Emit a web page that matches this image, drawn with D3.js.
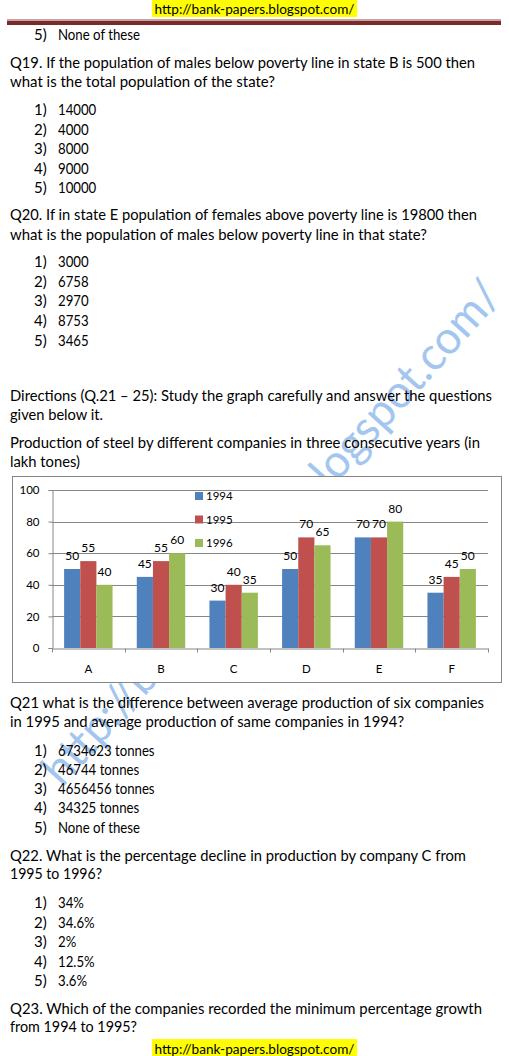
<!DOCTYPE html>
<html><head><meta charset="utf-8">
<script src="https://cdn.jsdelivr.net/npm/d3@7"></script>
<style>html,body{margin:0;padding:0;background:#fff;overflow:hidden}</style>
</head><body><svg id="page" width="509" height="1056"></svg>
<script>
// ---- chart data ----
const categories = ["A", "B", "C", "D", "E", "F"];
const years = ["1994", "1995", "1996"];
const prod1994 = [50, 45, 30, 50, 70, 35];
const prod1995 = [55, 55, 40, 70, 70, 45];
const prod1996 = [40, 60, 35, 65, 80, 50];
const yTicks = [0, 20, 40, 60, 80, 100];
const seriesColors = ["#4F81BD", "#C0504D", "#9BBB59"];

// ---- page text ----
const siteUrl = "http://bank-papers.blogspot.com/";
const textAbove = [
  {n: "5)", t: "None of these", y: 35},
  {t: "Q19. If the population of males below poverty line in state B is 500 then", y: 63.3, w: 465},
  {t: "what is the total population of the state?", y: 82.3, w: 265},
  {n: "1)", t: "14000", y: 110},
  {n: "2)", t: "4000", y: 129.5},
  {n: "3)", t: "8000", y: 149.3},
  {n: "4)", t: "9000", y: 168.5},
  {n: "5)", t: "10000", y: 188.3},
  {t: "Q20. If in state E population of females above poverty line is 19800 then", y: 215, w: 467},
  {t: "what is the population of males below poverty line in that state?", y: 234.5, w: 417},
  {n: "1)", t: "3000", y: 262.3},
  {n: "2)", t: "6758", y: 282},
  {n: "3)", t: "2970", y: 301.3},
  {n: "4)", t: "8753", y: 321},
  {n: "5)", t: "3465", y: 341},
  {t: "Directions (Q.21 \u2013 25): Study the graph carefully and answer the questions", y: 396, w: 482},
  {t: "given below it.", y: 415, w: 93},
  {t: "Production of steel by different companies in three consecutive years (in", y: 443.3, w: 470},
  {t: "lakh tones)", y: 461.7, w: 70},
  {t: "Q21 what is the difference between average production of six companies", y: 703.3, w: 474},
  {t: "in 1995 and average production of same companies in 1994?", y: 722.3, w: 394},
  {n: "1)", t: "6734623 tonnes", y: 750.7},
  {n: "2)", t: "46744 tonnes", y: 769.7},
  {n: "3)", t: "4656456 tonnes", y: 789},
  {n: "4)", t: "34325 tonnes", y: 808.3},
  {n: "5)", t: "None of these", y: 828},
  {t: "Q22. What is the percentage decline in production by company C from", y: 856, w: 456},
  {t: "1995 to 1996?", y: 874.3, w: 92},
  {n: "1)", t: "34%", y: 903.3},
  {n: "2)", t: "34.6%", y: 922.7},
  {n: "3)", t: "2%", y: 942},
  {n: "4)", t: "12.5%", y: 961.7},
  {n: "5)", t: "3.6%", y: 981},
  {t: "Q23. Which of the companies recorded the minimum percentage growth", y: 1009, w: 472},
  {t: "from 1994 to 1995?", y: 1026.7, w: 127}
];

const svg = d3.select("#page");
const FONT = "Lato, 'Open Sans', sans-serif";

// watermark (behind everything)
svg.append("text")
  .attr("transform", "translate(271,532) rotate(-48)")
  .attr("text-anchor", "middle")
  .attr("dy", "0.35em")
  .attr("font-family", FONT)
  .attr("font-size", 46)
  .attr("fill", "#a3c6ee")
  .attr("textLength", 660)
  .attr("lengthAdjust", "spacingAndGlyphs")
  .text(siteUrl);

// header
function urlBanner(yTop, h, base) {
  svg.append("rect").attr("x", 152).attr("y", yTop).attr("width", 205).attr("height", h).attr("fill", "#ffff00");
  svg.append("text").attr("x", 254.5).attr("y", base).attr("text-anchor", "middle")
    .attr("font-family", FONT).attr("font-size", 14).attr("fill", "#000")
    .attr("textLength", 200).attr("lengthAdjust", "spacingAndGlyphs").text(siteUrl);
}
urlBanner(0, 17, 14);
svg.append("rect").attr("x", 7).attr("y", 19).attr("width", 494).attr("height", 2).attr("fill", "#c9a3a3");
svg.append("rect").attr("x", 7).attr("y", 21).attr("width", 494).attr("height", 4).attr("fill", "#7b2a2a");
urlBanner(1039, 17, 1054);

// body text
const tg = svg.append("g").attr("font-family", FONT).attr("font-size", 15).attr("fill", "#000");
textAbove.forEach(d => {
  if (d.n) {
    tg.append("text").attr("x", 34).attr("y", d.y + 5).text(d.n);
    const t = tg.append("text").attr("x", 58).attr("y", d.y + 5).text(d.t);
    const L = t.node().getComputedTextLength();
    t.attr("textLength", L * 0.88).attr("lengthAdjust", "spacingAndGlyphs");
  } else {
    const t = tg.append("text").attr("x", 10).attr("y", d.y + 5).text(d.t);
    if (d.w) t.attr("textLength", d.w).attr("lengthAdjust", "spacingAndGlyphs");
  }
});

// ---- chart ----
svg.append("rect").attr("x", 12.5).attr("y", 476.5).attr("width", 489).attr("height", 206)
  .attr("fill", "#fff").attr("stroke", "#868686").attr("stroke-width", 1);

const x0 = d3.scaleBand().domain(categories).range([52, 488]).paddingInner(0).paddingOuter(0);
const x1 = d3.scaleBand().domain(years).range([0, x0.bandwidth()]).paddingInner(0).paddingOuter(0.75);
const y = d3.scaleLinear().domain([0, 100]).range([648, 490]);

const cg = svg.append("g").attr("font-family", FONT).attr("font-size", 11.5).attr("fill", "#000");

// gridlines
cg.append("g").selectAll("line").data(yTicks.filter(v => v > 0)).join("line")
  .attr("x1", 52).attr("x2", 488)
  .attr("y1", d => Math.round(y(d)) + 0.5).attr("y2", d => Math.round(y(d)) + 0.5)
  .attr("stroke", "#868686").attr("stroke-width", 1);

// y axis
const yAxis = d3.axisLeft(y).tickValues(yTicks).tickSize(4).tickPadding(9);
const yg = cg.append("g").attr("transform", "translate(52.5,0)").call(yAxis);
yg.select(".domain").attr("stroke", "#868686");
yg.selectAll(".tick line").attr("stroke", "#868686");
yg.selectAll("text").attr("font-family", FONT).attr("font-size", 11.5).attr("fill", "#000");

// x axis
const xAxis = d3.axisBottom(x0).tickSize(0).tickPadding(16);
const xg = cg.append("g").attr("transform", "translate(0,648.5)").call(xAxis);
xg.select(".domain").attr("stroke", "#868686");
xg.selectAll("text").attr("font-family", FONT).attr("font-size", 11.5).attr("fill", "#000");
const boundaries = categories.map(c => x0(c)).concat([x0(categories[categories.length - 1]) + x0.bandwidth()]);
xg.selectAll("line.bd").data(boundaries).join("line").attr("class", "bd")
  .attr("x1", d => Math.round(d) + 0.5).attr("x2", d => Math.round(d) + 0.5)
  .attr("y1", 0).attr("y2", 4).attr("stroke", "#868686");

// bars
const series = [prod1994, prod1995, prod1996];
const rows = [];
categories.forEach((c, i) => years.forEach((yr, j) => rows.push({c, yr, j, v: series[j][i]})));
cg.append("g").selectAll("rect").data(rows).join("rect")
  .attr("x", d => x0(d.c) + x1(d.yr))
  .attr("y", d => y(d.v))
  .attr("width", x1.bandwidth())
  .attr("height", d => y(0) - y(d.v))
  .attr("fill", d => seriesColors[d.j]);

// data labels
cg.append("g").attr("font-size", 12).selectAll("text").data(rows).join("text")
  .attr("x", d => x0(d.c) + x1(d.yr) + x1.bandwidth() / 2)
  .attr("y", d => y(d.v) - 9)
  .attr("text-anchor", "middle")
  .text(d => d.v);

// legend
const lg = cg.append("g");
years.forEach((yr, j) => {
  const cy = 496 + j * 23.5;
  lg.append("rect").attr("x", 195).attr("y", cy - 4).attr("width", 8).attr("height", 8).attr("fill", seriesColors[j]);
  lg.append("text").attr("x", 206).attr("y", cy).attr("dy", "0.35em").text(yr);
});
</script>
</body></html>
